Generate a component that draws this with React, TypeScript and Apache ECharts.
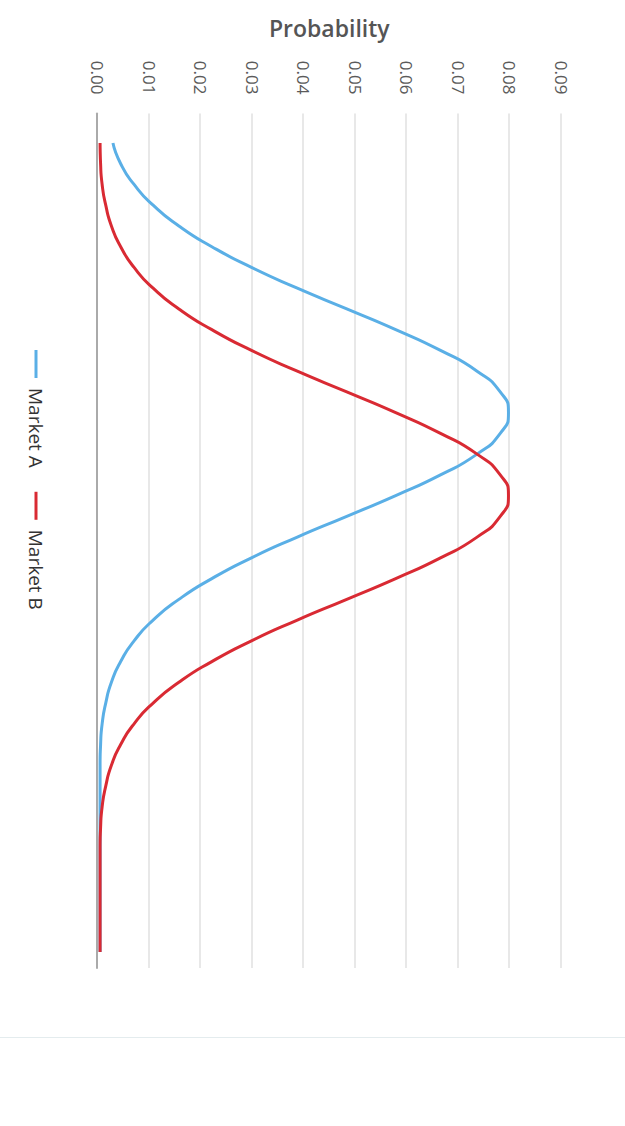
import React, { useEffect, useRef } from 'react';
import * as echarts from 'echarts';

// horizontal positions (returns) of the curve points
const returns = [
  -5, -4, -3, -2, -1, 0, 1, 2, 3, 4, 5, 6, 7, 8, 9, 10, 11, 12, 13, 14,
  15, 16, 17, 18, 19, 20, 21, 22, 23, 24, 25, 26, 27, 28, 29, 30, 31, 32, 33, 34,
];

const marketA = [
  0.0030, 0.0045, 0.0071, 0.0108, 0.0158, 0.0222, 0.0299, 0.0388, 0.0484, 0.0579,
  0.0666, 0.0737, 0.0782, 0.0798, 0.0782, 0.0737, 0.0666, 0.0579, 0.0484, 0.0388,
  0.0299, 0.0222, 0.0158, 0.0108, 0.0071, 0.0045, 0.0027, 0.0016, 0.0009, 0.0006,
  0.0005, 0.0005, 0.0005, 0.0005, 0.0005, 0.0005, 0.0005, 0.0005, 0.0005, 0.0005,
];

const marketB = [
  0.0005, 0.0006, 0.0009, 0.0016, 0.0027, 0.0045, 0.0071, 0.0108, 0.0158, 0.0222,
  0.0299, 0.0388, 0.0484, 0.0579, 0.0666, 0.0737, 0.0782, 0.0798, 0.0782, 0.0737,
  0.0666, 0.0579, 0.0484, 0.0388, 0.0299, 0.0222, 0.0158, 0.0108, 0.0071, 0.0045,
  0.0027, 0.0016, 0.0009, 0.0006, 0.0005, 0.0005, 0.0005, 0.0005, 0.0005, 0.0005,
];

const seriesNames = ['Market A', 'Market B'];

// chart is laid out normally, then turned a quarter clockwise with css
const CHART_W = 1037;
const CHART_H = 625;

export default function App() {
  const chartRef = useRef<HTMLDivElement>(null);

  useEffect(() => {
    const chart = echarts.init(chartRef.current!, null, { renderer: 'svg' });
    const font = "'Open Sans', sans-serif";

    chart.setOption({
      animation: false,
      color: ['#5aafe6', '#d92a33'],
      grid: { left: 113.5, right: CHART_W - 968, top: 64, bottom: CHART_H - 527.5 },
      legend: {
        data: seriesNames,
        left: 345,
        top: 572,
        icon: 'rect',
        itemWidth: 28,
        itemHeight: 3,
        itemGap: 24,
        textStyle: {
          fontFamily: font,
          fontSize: 19,
          lineHeight: 24,
          color: '#333',
          padding: [0, 0, 0, 5],
        },
      },
      xAxis: {
        type: 'value',
        min: -6.42,
        max: 34.77,
        axisLine: { show: true, lineStyle: { color: '#aaaaaa', width: 2 } },
        axisTick: { show: false },
        axisLabel: { show: false },
        splitLine: { show: false },
      },
      yAxis: {
        type: 'value',
        min: 0,
        max: 0.09,
        interval: 0.01,
        name: 'Probability',
        nameLocation: 'middle',
        nameGap: 74,
        nameTextStyle: { fontFamily: font, fontSize: 23, fontWeight: 600, color: '#555' },
        axisLine: { show: false },
        axisTick: { show: false },
        axisLabel: {
          margin: 19,
          fontFamily: font,
          fontSize: 17,
          color: '#5a5a5a',
          formatter: (v: number) => v.toFixed(2),
        },
        splitLine: { lineStyle: { color: '#e8e8e8', width: 2 } },
      },
      series: [
        {
          name: seriesNames[0],
          type: 'line',
          smooth: 0.6,
          showSymbol: false,
          lineStyle: { width: 3 },
          data: returns.map((r, i) => [r, marketA[i]]),
        },
        {
          name: seriesNames[1],
          type: 'line',
          smooth: 0.6,
          showSymbol: false,
          lineStyle: { width: 3 },
          data: returns.map((r, i) => [r, marketB[i]]),
        },
      ],
    });

    return () => {
      chart.dispose();
    };
  }, []);

  return (
    <div style={{ position: 'fixed', left: 0, top: 0, width: 625, height: 1126, overflow: 'hidden', background: '#fff' }}>
      <div
        ref={chartRef}
        style={{
          position: 'absolute',
          left: 0,
          top: 0,
          width: CHART_W,
          height: CHART_H,
          transformOrigin: 'top left',
          transform: `translate(${CHART_H}px, 0) rotate(90deg)`,
        }}
      />
      <div style={{ position: 'absolute', left: 0, top: 1037, width: 625, height: 1, background: '#e4ecee' }} />
    </div>
  );
}
